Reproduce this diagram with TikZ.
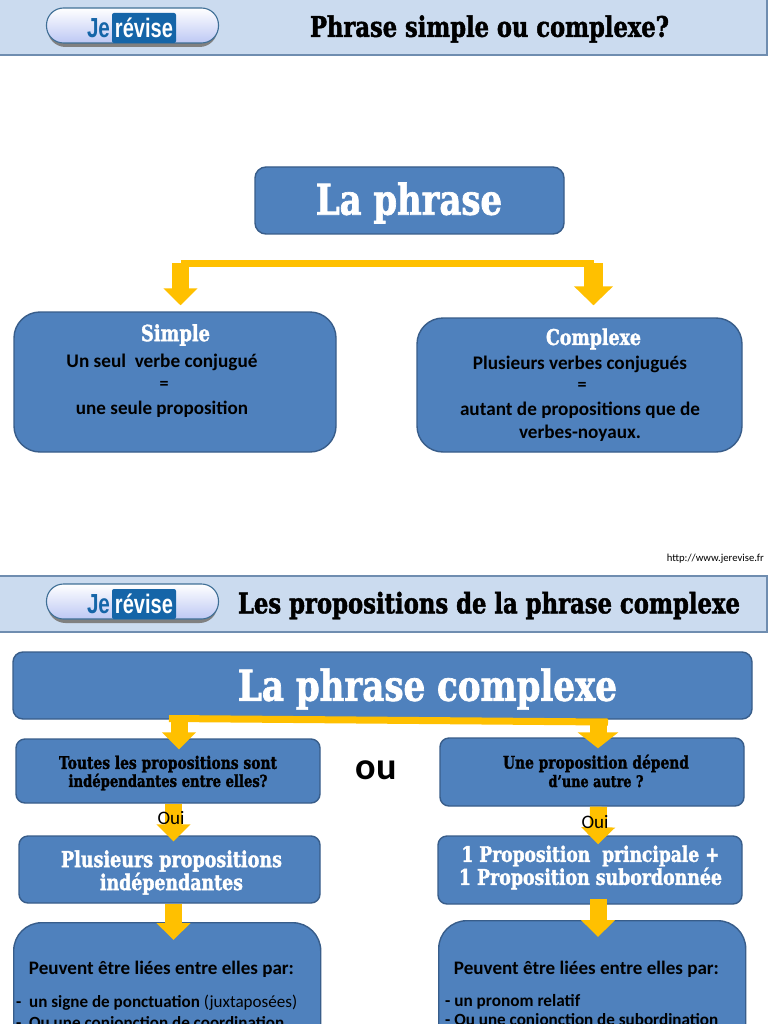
\documentclass[tikz,border=0pt]{standalone}
\usepackage{fontspec}
\usepackage{graphicx}
\usetikzlibrary{arrows.meta,calc}
\setmainfont{Carlito}
\newfontfamily\slab[FakeStretch=0.8,BoldFeatures={FakeBold=1.6}]{DejaVu Serif}
\newfontfamily\logofont[FakeStretch=0.75]{Liberation Sans}
\definecolor{bandblue}{HTML}{CBDBEF}
\definecolor{bandline}{HTML}{6F8DB0}
\definecolor{boxblue}{HTML}{4F81BD}
\definecolor{boxline}{HTML}{385D8A}
\definecolor{amber}{HTML}{FFC000}
\definecolor{logoblue}{HTML}{1565A8}
\definecolor{logoline}{HTML}{3F6F96}
\newcommand{\fit}[2]{\resizebox{#1pt}{!}{#2}}
\tikzset{
  x=1pt,y=-1pt,
  band/.style={fill=bandblue,draw=bandline,line width=1.2pt},
  bluebox/.style={draw=boxline,fill=boxblue,line width=1.4pt,inner sep=0pt,align=center,text=white,
    font=\fontsize{10}{18}\selectfont},
  txt/.style={inner sep=0pt,text=black,align=center},
  wtxt/.style={inner sep=0pt,text=white,align=center},
  blockarrow/.style={draw=amber,line width=17pt,-{Triangle[width=33pt,length=17pt,fill=amber]}},
  bar/.style={draw=amber,line width=7pt},
  logo/.pic={
    \fill[black!50,rounded corners=18pt] (-85,-14) rectangle (85,19);
    \path[draw=logoline,line width=1.1pt,top color=white,bottom color=bandblue!85!blue!80!white,rounded corners=17pt] (-86,-20) rectangle (86,15);
    \fill[logoblue,rounded corners=2pt] (-20.5,-15) rectangle (43.5,15);
    \node[inner sep=0pt,text=logoblue] at (-34,0) {\fit{23}{\logofont\bfseries Je}};
    \node[inner sep=0pt,text=white] at (11.5,0) {\fit{58}{\logofont\bfseries révise}};
  }
}
\begin{document}
\begin{tikzpicture}
\path[use as bounding box,clip] (0,0) rectangle (768,1024);
\fill[white] (0,0) rectangle (768,1024);
% --- slide 1
\path[band] (-2,-2) rectangle (767,55);
\pic at (132.5,28) {logo};
\node[txt] (title1) at (489.5,29) {\fit{359}{\slab\bfseries Phrase simple ou complexe?}};
\node[bluebox,minimum width=309pt,minimum height=67pt,rounded corners=11pt] (root1) at (409.5,200.5) {};
\node[wtxt] (root1T) at (409,203) {\fit{186}{\slab\bfseries La phrase}};
\node[bluebox,minimum width=322pt,minimum height=140pt,rounded corners=26pt] (simple) at (175,382) {};
\node[bluebox,minimum width=325pt,minimum height=134pt,rounded corners=26pt] (complexe) at (579.5,385) {};
\node[wtxt] (simpleT) at (175.5,335) {\fit{69}{\slab\bfseries Simple}};
\node[txt] (s1) at (162,362.5) {\fit{191}{\bfseries Un seul\ \ verbe conjugué}};
\node[txt] (s2) at (164,385) {\fit{9}{\bfseries =}};
\node[txt] (s3) at (162,409.5) {\fit{172}{\bfseries une seule proposition}};
\node[wtxt] (complexeT) at (593.5,339) {\fit{95}{\slab\bfseries Complexe}};
\node[txt] (c1) at (580,364) {\fit{214}{\bfseries Plusieurs verbes conjugués}};
\node[txt] (c2) at (582,386) {\fit{9}{\bfseries =}};
\node[txt] (c3) at (580,410) {\fit{240}{\bfseries autant de propositions que de}};
\node[txt] (c4) at (580,433) {\fit{122}{\bfseries verbes-noyaux.}};
\coordinate (barL) at (180.5,263);
\coordinate (barR) at (593.5,263);
\draw[bar] (barL) -- (barR);
\draw[blockarrow] (barL) -- ([xshift=5.5pt,yshift=6pt]simple.north);
\draw[blockarrow,line width=19pt,-{Triangle[width=38pt,length=19pt,fill=amber]}] (barR) -- ([xshift=14pt,yshift=12pt]complexe.north);
\node[inner sep=0pt,anchor=east] (url) at (764,558.5) {\fit{97}{http://www.jerevise.fr}};
% --- slide 2
\path[band] (-2,576) rectangle (767,632);
\pic at (132.5,604) {logo};
\node[txt] (title2) at (489,605.5) {\fit{502}{\slab\bfseries Les propositions de la phrase complexe}};
\node[bluebox,minimum width=739pt,minimum height=67pt,rounded corners=10pt] (root2) at (382.5,685.5) {};
\node[wtxt] (root2T) at (427.5,689) {\fit{379}{\slab\bfseries La phrase complexe}};
\node[bluebox,minimum width=304pt,minimum height=64pt,rounded corners=9pt] (toutes) at (168,771) {};
\node[txt,font=\fontsize{10}{18}\selectfont] (toutesT) at (168,773)
  {\fit{218}{\slab\bfseries Toutes les propositions sont}\\\fit{199}{\slab\bfseries indépendantes entre elles?}};
\node[bluebox,minimum width=304pt,minimum height=68pt,rounded corners=9pt] (depend) at (592,772) {};
\node[txt,font=\fontsize{10}{18.5}\selectfont] (dependT) at (596,771)
  {\fit{186}{\slab\bfseries Une proposition dépend}\\\fit{95}{\slab\bfseries d’une autre ?}};
\node[txt] (ou) at (376,770) {\fit{41}{\fontsize{36}{36}\selectfont\bfseries ou}};
\node[bluebox,minimum width=301pt,minimum height=67pt,rounded corners=9pt] (plus) at (169.5,869.5) {};
\node[wtxt,font=\fontsize{10}{23}\selectfont] (plusT) at (171.5,872.5)
  {\fit{221}{\slab\bfseries Plusieurs propositions}\\\fit{143}{\slab\bfseries indépendantes}};
\node[bluebox,minimum width=304pt,minimum height=68pt,rounded corners=9pt] (princ) at (590,870) {};
\node[wtxt,font=\fontsize{10}{23}\selectfont] (princT) at (590.5,867.5)
  {\fit{258}{\slab\bfseries 1 Proposition\ \ principale +}\\\fit{263}{\slab\bfseries 1 Proposition subordonnée}};
\node[bluebox,minimum width=307pt,minimum height=140pt,rounded corners=28pt,anchor=north west] (lieesL) at (13,922) {};
\node[bluebox,minimum width=307pt,minimum height=140pt,rounded corners=28pt,anchor=north west] (lieesR) at (438,920) {};
\node[txt] (l1) at (161.5,969) {\fit{265}{\bfseries Peuvent être liées entre elles par:}};
\node[txt,anchor=base west] (l2) at (16,1007) {\fit{281}{\bfseries -\ \ un signe de ponctuation \mdseries(juxtaposées)}};
\node[txt,anchor=base west] (l3) at (16,1028.5) {\fit{268}{\bfseries -\ \ Ou une conjonction de coordination}};
\node[txt] (r1) at (586.5,969) {\fit{265}{\bfseries Peuvent être liées entre elles par:}};
\node[txt,anchor=base west] (r2) at (445,1006) {\fit{135}{\bfseries - un pronom relatif}};
\node[txt,anchor=base west] (r3) at (445,1025) {\fit{273}{\bfseries - Ou une conjonction de subordination}};
\coordinate (bar2L) at (169,718.5);
\coordinate (bar2R) at (608,722);
\draw[bar] (bar2L) -- (bar2R);
\draw[blockarrow] (179,716) -- ([xshift=11pt,yshift=-11pt]toutes.north);
\draw[blockarrow,-{Triangle[width=40pt,length=16pt,fill=amber]}] (598,719) -- ([xshift=6pt,yshift=-11pt]depend.north);
\draw[blockarrow] ([xshift=5.5pt]toutes.south) -- ([xshift=4pt,yshift=-6pt]plus.north);
\draw[blockarrow] ([xshift=6.5pt]depend.south) -- ([xshift=8pt,yshift=-9pt]princ.north);
\draw[blockarrow] ([xshift=4pt]plus.south) -- ($(plus.south |- lieesL.north)+(4,18)$);
\draw[blockarrow] ([xshift=8pt,yshift=6pt]princ.south) -- ($(princ.south |- lieesR.north)+(8,17)$);
\node[txt] (oui1) at (171,818) {\fit{27}{\fontsize{16}{16}\selectfont Oui}};
\node[txt] (oui2) at (595,822) {\fit{27}{\fontsize{16}{16}\selectfont Oui}};
\end{tikzpicture}
\end{document}
